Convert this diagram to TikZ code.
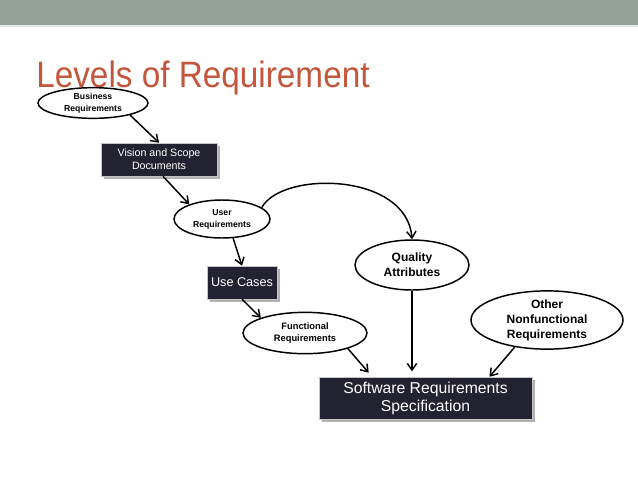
\documentclass[tikz,border=0pt]{standalone}
\usepackage{fontspec}
\setmainfont{Liberation Sans}
\usepackage{xcolor}
\usepackage{tikz}
\usetikzlibrary{arrows.meta,positioning,shapes.geometric,shadows}
\definecolor{barsage}{RGB}{147,162,150}
\definecolor{titlered}{RGB}{196,86,60}
\definecolor{boxink}{RGB}{35,34,48}
\tikzset{
  ebox/.style={ellipse,draw=black,line width=1.1pt,fill=white,inner sep=0pt,
               minimum width=#1,align=center},
  ebox/.default=80pt,
  dbox/.style={rectangle,draw=gray!45,fill=boxink,text=white,inner sep=0pt,
               minimum width=#1,align=center,
               drop shadow={shadow xshift=2pt,shadow yshift=-2pt,fill=gray,opacity=.6}},
  dbox/.default=80pt,
  arr/.style={-{Straight Barb[length=5pt,width=7pt]},line width=1.1pt},
}
\newcommand{\fs}[2]{\fontsize{#1}{#2}\selectfont}
\begin{document}
\begin{tikzpicture}[x=0.75pt,y=-0.75pt]
  \fill[white] (0,0) rectangle (638,479);
  \useasboundingbox (0,0) rectangle (638,479);
  \fill[barsage] (0,0) rectangle (638,25);
  \fill[gray!20] (0,25) rectangle (638,27);

  \node[anchor=base west,text=titlered,font=\fs{25.5}{30},inner sep=0pt] (ttl) at (36,87)
    {\scalebox{0.98}[1.08]{Levels of Requirement}};

  % --- ellipses ---
  \node[ebox=82.5pt,minimum height=23pt,font=\fs{6.5}{9}\bfseries] (biz) at (93,103)
    {Business\\Requirements};
  \node[ebox=72pt,minimum height=28.5pt,font=\fs{6.5}{9}\bfseries] (usr) at (222,219)
    {User\\Requirements};
  \node[ebox=85.5pt,minimum height=37.5pt,font=\fs{9}{11.25}\bfseries] (qa) at (412,265)
    {Quality\\Attributes};
  \node[ebox=93pt,minimum height=31pt,font=\fs{7}{9.5}\bfseries] (fr) at (305,333)
    {Functional\\Requirements};
  \node[ebox=114pt,minimum height=42.75pt,font=\fs{9}{11.25}\bfseries] (oth) at (547,320)
    {Other\\Nonfunctional\\Requirements};

  % --- dark boxes ---
  \node[dbox=87pt,minimum height=24.75pt,font=\fs{8}{10}] (vis) at (159,159.5)
    {Vision and Scope\\Documents};
  \node[dbox=52.5pt,minimum height=24.75pt,font=\fs{9.5}{11}] (uc) at (242,282.5)
    {Use Cases};
  \node[dbox=160pt,minimum height=31.5pt,font=\fs{11.8}{13.5}] (srs) at (425.5,398)
    {Software Requirements\\Specification};

  % --- connectors ---
  \draw[arr] (biz.-18) -- (vis.north);
  \draw[arr] ([xshift=3pt]vis.south) -- (usr.156);
  \draw[arr] (usr.-60) -- (uc.north);
  \draw[arr] (usr.16) .. controls +(20,-37) and +(-5,-67) .. (qa.north);
  \draw[arr] (uc.south) -- (fr.161);
  \draw[arr,shorten >=4pt] (fr.-20) -- ([xshift=-40pt]srs.north);
  \draw[arr,shorten >=4pt] (qa.south) -- (qa.south |- srs.north);
  \draw[arr] (oth.220) -- ([xshift=48pt]srs.north);
\end{tikzpicture}
\end{document}
